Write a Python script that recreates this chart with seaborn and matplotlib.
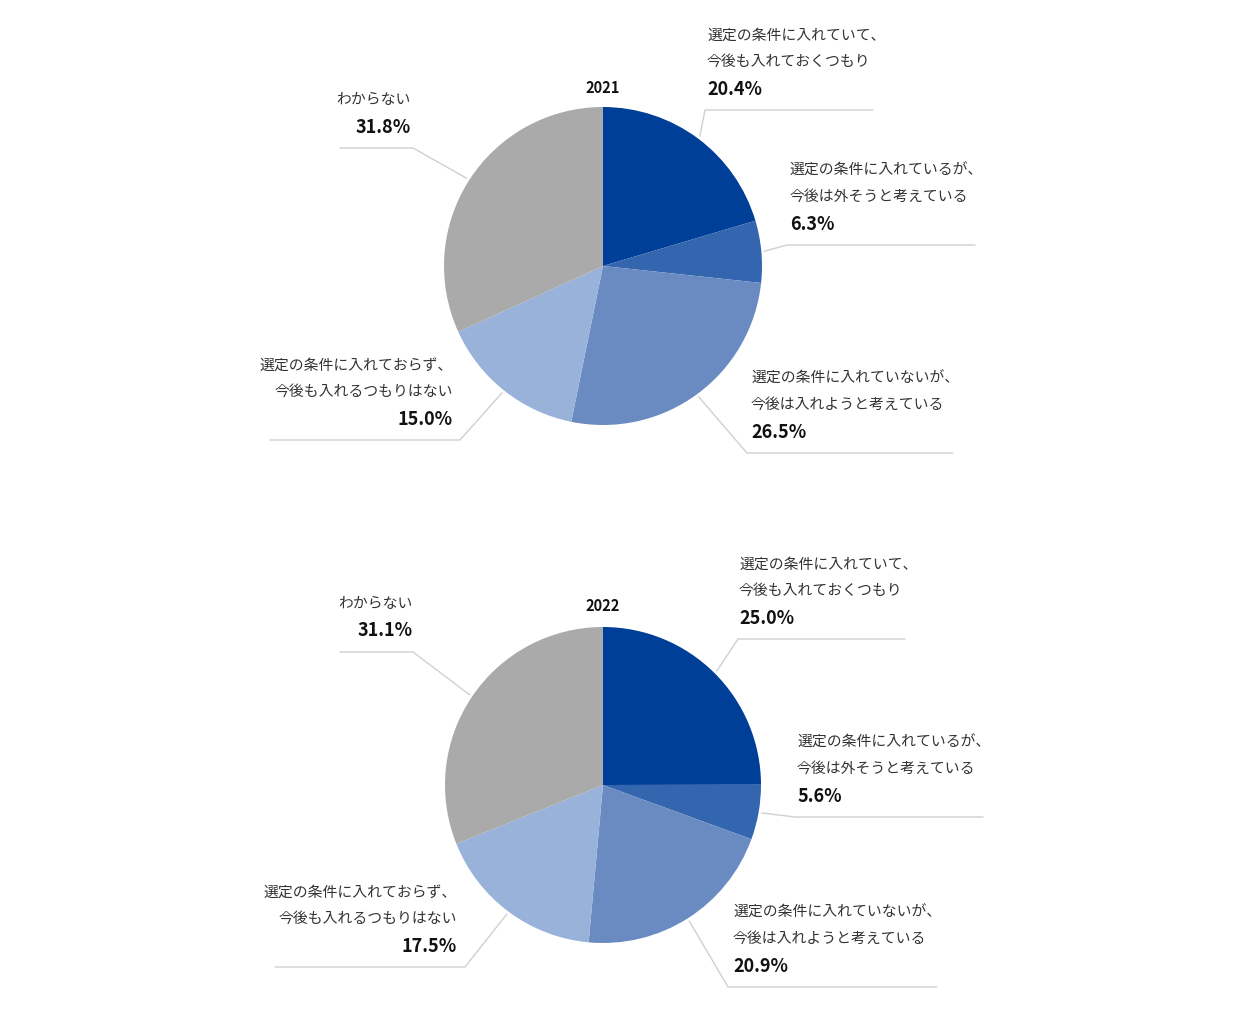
import numpy as np
import matplotlib
matplotlib.use("Agg")
import matplotlib.pyplot as plt
import seaborn as sns

# ---------------- data ----------------
years = ["2021", "2022"]
categories = [
    "選定の条件に入れていて、\n今後も入れておくつもり",
    "選定の条件に入れているが、\n今後は外そうと考えている",
    "選定の条件に入れていないが、\n今後は入れようと考えている",
    "選定の条件に入れておらず、\n今後も入れるつもりはない",
    "わからない",
]
values_2021 = [20.4, 6.3, 26.5, 15.0, 31.8]
values_2022 = [25.0, 5.6, 20.9, 17.5, 31.1]
colors = ["#003f98", "#3366ae", "#6a8bc1", "#98b2d9", "#aaaaaa"]

# ---------------- style ----------------
sns.set_theme(style="white")
plt.rcParams["font.family"] = ["Noto Sans CJK JP", "DejaVu Sans"]

W, H = 1250, 1019
fig = plt.figure(figsize=(12.5, 10.19), dpi=100)
ax = fig.add_axes([0, 0, 1, 1])

# layout (pixel space, y measured from top)
pies = [
    dict(center=(603, 266), radius=159, title_y=88,
         labels=[  # elbow x, elbow y, line end x, text x, ha
             (705, 110, 873, 707, "left"),
             (787, 245, 975, 790, "left"),
             (747, 453, 953, 751, "left"),
             (460, 440, 270, 453, "right"),
             (413, 148, 340, 411, "right"),
         ]),
    dict(center=(603, 785), radius=158, title_y=606,
         labels=[
             (738, 639, 905, 739, "left"),
             (795, 817, 983, 797, "left"),
             (728, 987, 937, 733, "left"),
             (465, 967, 275, 457, "right"),
             (413, 652, 340, 413, "right"),
         ]),
]
series = [values_2021, values_2022]

line_color = "#d0d0d0"
text_color = "#333333"

for year, vals, spec in zip(years, series, pies):
    cx, cy = spec["center"]
    r = spec["radius"]
    ax.pie(vals, colors=colors, startangle=90, counterclock=False,
           center=(cx, H - cy), radius=r,
           wedgeprops=dict(linewidth=0, antialiased=True))
    ax.text(cx, H - spec["title_y"], year, ha="center", va="center",
            fontsize=10.5, fontweight="bold", color="#111111")
    total = sum(vals)
    cum = 0.0
    for v, cat, (ex, ey, lx, tx, ha) in zip(vals, categories, spec["labels"]):
        mid = (cum + v / 2) / total * 360.0
        cum += v
        theta = np.deg2rad(90 - mid)
        sx = cx + (r + 3) * np.cos(theta)
        sy = cy - (r + 3) * np.sin(theta)
        ax.plot([sx, ex, lx], [H - sy, H - ey, H - ey], color=line_color,
                linewidth=1.0, solid_joinstyle="miter")
        lines = cat.split("\n")
        offs = [-48] if len(lines) == 1 else [-74, -48]
        for ln, off in zip(lines, offs):
            ax.text(tx, H - (ey + off), ln, ha=ha, va="center",
                    fontsize=10.7, color=text_color)
        ax.text(tx, H - (ey - 21), f"{v:.1f}%", ha=ha, va="center",
                fontsize=13, fontweight="bold", color="#111111")

ax.set_xlim(0, W)
ax.set_ylim(0, H)
ax.set_aspect("equal")
ax.axis("off")

fig.savefig("out.png", dpi=100, facecolor="white")
